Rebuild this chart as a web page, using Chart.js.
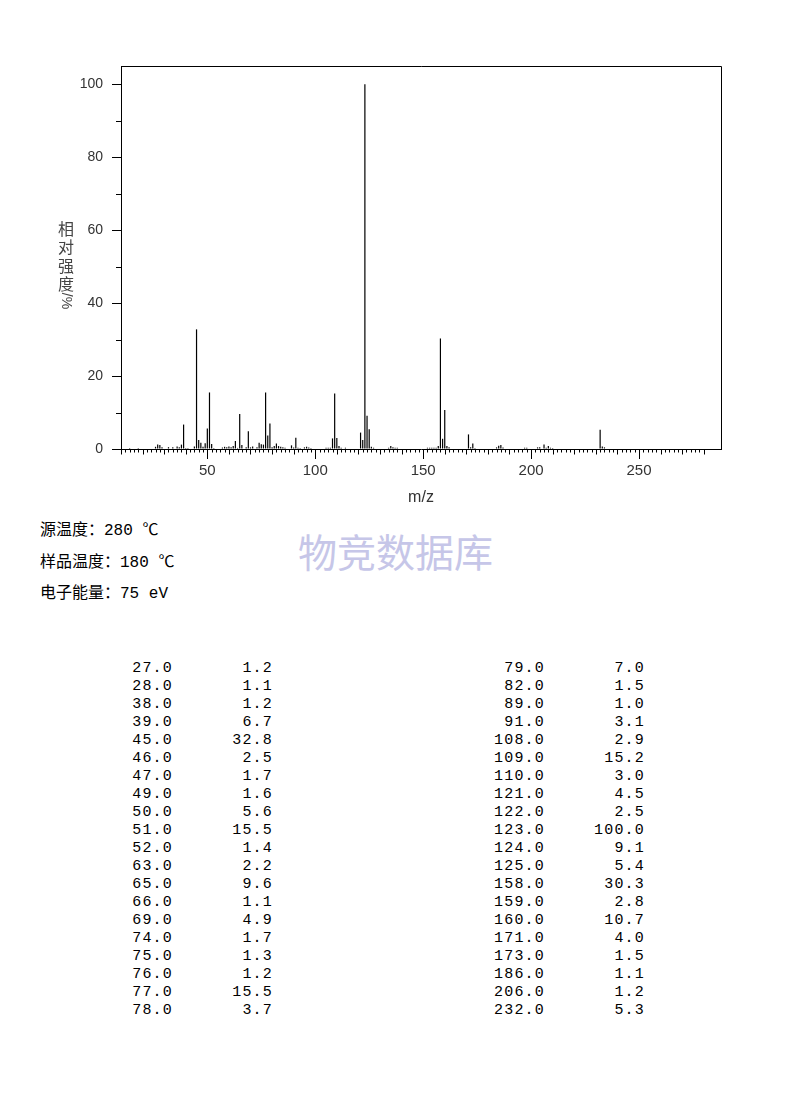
<!DOCTYPE html>
<html>
<head>
<meta charset="utf-8">
<script src="https://cdn.jsdelivr.net/npm/chart.js@4/dist/chart.umd.min.js"></script>
<style>
body { margin: 0; background: #fff; width: 794px; height: 1106px; position: relative; overflow: hidden;
       font-family: "Liberation Mono", "Noto Sans CJK SC", monospace; color: #000; }
#spec { position: absolute; left: 0; top: 0; }
.info { position: absolute; left: 40px; font-size: 16px; line-height: 20px; white-space: pre; }
.mark { position: absolute; left: 298px; top: 529px; font-family: "Noto Sans CJK SC"; font-size: 39px;
        line-height: 42px; color: #c6c6e8; }
.cell { position: absolute; width: 90px; font-size: 15px; letter-spacing: 1.2px; line-height: 18px; text-align: right; }
</style>
</head>
<body>
<canvas id="spec" width="794" height="520"></canvas>

<div class="info" style="top:521px">源温度：280 ℃</div>
<div class="info" style="top:553px">样品温度：180 ℃</div>
<div class="info" style="top:584px">电子能量：75 eV</div>
<div class="mark">物竞数据库</div>
<div id="peaktable"></div>

<script>
// m/z values and relative intensity (%)
const mz = [14, 18, 26, 27, 28, 29, 32, 34, 36, 37, 38, 39, 40, 41, 44, 45, 46, 47, 48, 49,
            50, 51, 52, 53, 57, 58, 59, 60, 61, 62, 63, 64, 65, 66, 68, 69, 70, 71, 73, 74,
            75, 76, 77, 78, 79, 80, 81, 82, 83, 84, 85, 86, 89, 90, 91, 92, 93, 95, 96, 97,
            98, 105, 106, 107, 108, 109, 110, 111, 112, 114, 121, 122, 123, 124, 125, 126, 127, 134, 135, 136,
            137, 138, 152, 153, 154, 155, 156, 157, 158, 159, 160, 161, 162, 171, 172, 173, 174, 184, 185, 186,
            187, 197, 198, 203, 204, 206, 207, 208, 209, 210, 232, 233, 234];
const intensity = [0.3, 0.3, 0.6, 1.2, 1.1, 0.45, 0.5, 0.45, 0.7, 0.5, 1.2, 6.7, 0.3, 0.3, 0.7, 32.8, 2.5, 1.7, 0.6, 1.6,
                   5.6, 15.5, 1.4, 0.3, 0.4, 0.6, 0.45, 0.7, 0.5, 0.8, 2.2, 0.3, 9.6, 1.1, 0.45, 4.9, 0.45, 0.7, 0.45, 1.7,
                   1.3, 1.2, 15.5, 3.7, 7.0, 0.5, 0.8, 1.5, 0.8, 0.6, 0.45, 0.35, 1.0, 0.4, 3.1, 0.35, 0.3, 0.45, 0.6, 0.4,
                   0.3, 0.35, 0.35, 0.35, 2.9, 15.2, 3.0, 0.8, 0.35, 0.35, 4.5, 2.5, 100.0, 9.1, 5.4, 0.6, 0.35, 0.35, 0.8, 0.45,
                   0.35, 0.35, 0.35, 0.35, 0.35, 0.35, 0.35, 0.8, 30.3, 2.8, 10.7, 0.8, 0.5, 4.0, 0.45, 1.5, 0.3, 0.45, 0.9, 1.1,
                   0.4, 0.35, 0.35, 0.45, 0.45, 1.2, 0.35, 0.8, 0.35, 0.3, 5.3, 0.7, 0.45];
const xTickLabels = [50, 100, 150, 200, 250];
const yTickLabels = [0, 20, 40, 60, 80, 100];
const xMinorTicks = [];
for (let v = 10; v <= 280; v += 2) xMinorTicks.push(v);
const yMinorTicks = [0, 10, 20, 30, 40, 50, 60, 70, 80, 90, 100];

// tick marks, frame and the stacked y title
const spectrumFrame = {
    id: 'spectrumFrame',
    afterDraw(chart) {
        const ctx = chart.ctx;
        const a = chart.chartArea;
        const x = chart.scales.x, y = chart.scales.y;
        ctx.save();
        ctx.strokeStyle = '#000';
        ctx.lineWidth = 1;
        ctx.beginPath();
        xMinorTicks.forEach(v => {
            const px = Math.round(x.getPixelForValue(v)) + 0.5;
            const len = v % 50 === 0 ? 10 : (v % 10 === 0 ? 5.5 : 3.5);
            ctx.moveTo(px, a.bottom);
            ctx.lineTo(px, a.bottom + len);
        });
        yMinorTicks.forEach(v => {
            const py = Math.round(y.getPixelForValue(v)) + 0.5;
            const len = v % 20 === 0 ? 9 : 5;
            ctx.moveTo(a.left, py);
            ctx.lineTo(a.left - len, py);
        });
        ctx.moveTo(a.left, Math.round(a.top) + 0.5);
        ctx.lineTo(Math.round(a.right) + 0.5, Math.round(a.top) + 0.5);
        ctx.lineTo(Math.round(a.right) + 0.5, a.bottom);
        ctx.stroke();

        ctx.fillStyle = '#444';
        ctx.font = '16px "Noto Sans CJK SC"';
        ctx.textAlign = 'center';
        ctx.textBaseline = 'middle';
        ['相', '对', '强', '度'].forEach((ch, i) => ctx.fillText(ch, 66, 229 + i * 18.3));
        ctx.translate(66, 301);
        ctx.rotate(Math.PI / 2);
        ctx.font = '14px "Liberation Sans"';
        ctx.fillText('/%', 0, 0);
        ctx.restore();
    }
};

new Chart(document.getElementById('spec'), {
    type: 'bar',
    data: {
        datasets: [{
            data: mz.map((m, i) => ({ x: m, y: intensity[i] })),
            backgroundColor: '#000',
            borderWidth: 0,
            inflateAmount: 0,
            barThickness: 1.2
        }]
    },
    options: {
        responsive: false,
        animation: false,
        layout: { padding: { left: 0, top: 66, right: 73, bottom: 0 } },
        plugins: { legend: { display: false }, tooltip: { enabled: false } },
        scales: {
            x: {
                type: 'linear',
                offset: false,
                min: 10,
                max: 288,
                afterFit(s) { s.height = 71; },
                afterBuildTicks(s) { s.ticks = xTickLabels.map(v => ({ value: v })); },
                grid: { drawOnChartArea: false, drawTicks: false, offset: false },
                border: { color: '#000', width: 1 },
                ticks: { padding: 13, color: '#333', autoSkip: false, maxRotation: 0,
                         font: { family: 'Liberation Sans', size: 15 } },
                title: { display: true, text: 'm/z', color: '#333',
                         font: { family: 'Liberation Sans', size: 16 }, padding: { top: 0, bottom: 13 } }
            },
            y: {
                min: 0,
                max: 105,
                afterFit(s) { s.width = 121; },
                afterBuildTicks(s) { s.ticks = yTickLabels.map(v => ({ value: v })); },
                grid: { drawOnChartArea: false, drawTicks: false },
                border: { color: '#000', width: 1 },
                ticks: { padding: 18, color: '#333', font: { family: 'Liberation Sans', size: 14 } }
            }
        }
    },
    plugins: [spectrumFrame]
});

// peak list, two columns of twenty rows (peaks of 1 % and above)
const listed = mz.map((m, i) => [m, intensity[i]]).filter(p => p[1] >= 1.0);
const table = document.getElementById('peaktable');
listed.forEach((p, i) => {
    const col = Math.floor(i / 20), row = i % 20;
    const top = 660 + row * 18;
    const rights = col === 0 ? [173, 273] : [545, 645];
    [p[0].toFixed(1), p[1].toFixed(1)].forEach((txt, k) => {
        const d = document.createElement('div');
        d.className = 'cell';
        d.style.top = top + 'px';
        d.style.left = (rights[k] - 90) + 'px';
        d.textContent = txt;
        table.appendChild(d);
    });
});
</script>
</body>
</html>
